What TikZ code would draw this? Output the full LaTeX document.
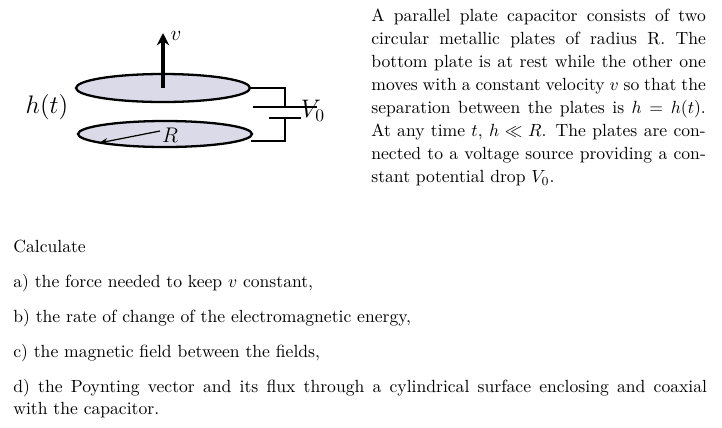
\documentclass[tikz,border=0pt]{standalone}
\usetikzlibrary{arrows.meta}
\definecolor{plate}{RGB}{218,218,232}
\begin{document}
\begin{tikzpicture}[x=0.568pt,y=-0.568pt,
  platest/.style={draw=black,line width=1.3pt,fill=plate},
  wire/.style={draw=black,line width=0.6pt},
  txt/.style={anchor=west,inner sep=0pt,text height=7pt,text depth=2pt,font=\normalsize}]
\useasboundingbox (0,0) rectangle (722,427);
% plates
\coordinate (top) at (163,88);
\coordinate (bot) at (165,134);
\draw[platest] (top) ellipse [x radius=87,y radius=14];
\draw[platest] (bot) ellipse [x radius=87,y radius=13];
\coordinate (tr) at (250,88);
\coordinate (br) at (251,141);
\coordinate (c1) at (285,88);
\coordinate (c2) at (285,141);
\coordinate (bp) at (285,107);
\coordinate (bn) at (285,118);
\draw[wire] (tr) -- (c1) -- (bp);
\draw[wire] (bn) -- (c2) -- (br);
\draw[wire] ([xshift=-18]bp) -- ([xshift=18]bp);
\draw[wire] ([xshift=-9]bn) -- ([xshift=9]bn);
\node[inner sep=0] (V) at (313,111) {\Large$V_0$};
\coordinate (vtip) at (163,33);
\draw[line width=1.8pt,-{Stealth[length=7pt,width=7pt]}] (top) -- (vtip);
\node[inner sep=0] (vl) at (176,36) {\large$v$};
\node[inner sep=0] (h) at (47,107) {\Large$h(t)$};
\coordinate (rs) at (160,131);
\coordinate (re) at (99,143);
\draw[line width=0.7pt,-{Stealth[length=5pt]}] (rs) -- (re);
\node[inner sep=0] (R) at (170,135) {\large$R$};
% paragraph
\node[txt] (p1) at (371,17) {\hbox to 190pt{A parallel plate capacitor consists of two}};
\node[txt] (p2) at (371,40) {\hbox to 190pt{circular metallic plates of radius R. The}};
\node[txt] (p3) at (371,63) {\hbox to 190pt{bottom plate is at rest while the other one}};
\node[txt] (p4) at (371,86) {\hbox to 190pt{moves with a constant velocity $v$ so that the}};
\node[txt] (p5) at (371,109) {\hbox to 190pt{separation between the plates is $h=h(t)$.}};
\node[txt] (p6) at (371,132) {\hbox to 190pt{At any time $t$, $h\ll R$. The plates are con-}};
\node[txt] (p7) at (371,155) {\hbox to 190pt{nected to a voltage source providing a con-}};
\node[txt] (p8) at (371,178) {stant potential drop $V_0$.};
% questions
\node[txt] (q0) at (13,248) {Calculate};
\node[txt] (qa) at (13,283) {a) the force needed to keep $v$ constant,};
\node[txt] (qb) at (13,318) {b) the rate of change of the electromagnetic energy,};
\node[txt] (qc) at (13,353) {c) the magnetic field between the fields,};
\node[txt] (qd) at (13,388) {\hbox to 394pt{d) the Poynting vector and its flux through a cylindrical surface enclosing and coaxial}};
\node[txt] (qd2) at (13,410) {with the capacitor.};
\end{tikzpicture}
\end{document}
